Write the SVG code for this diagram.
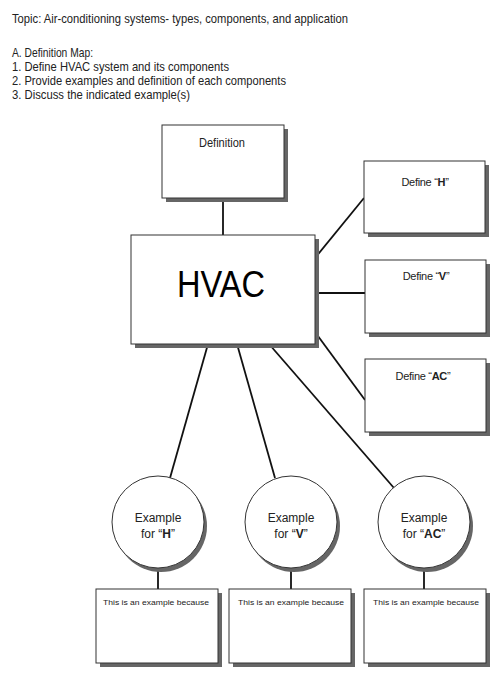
<svg xmlns="http://www.w3.org/2000/svg" width="503" height="700" viewBox="0 0 503 700">
<style>
text{font-family:"Liberation Sans",Arial,sans-serif;fill:#222}
.hdr{font-size:13px}
.box{fill:#fff;stroke:#333;stroke-width:1}
.sh{fill:#666}
.lbl{font-size:12px;text-anchor:middle}
.def{font-size:11px;text-anchor:middle;letter-spacing:-0.3px}
.small{font-size:8px}
.con line{stroke:#111;stroke-width:1.8}
</style>
<rect width="503" height="700" fill="#fff"/>
<g id="header">
<text class="hdr" x="12" y="23" textLength="336" lengthAdjust="spacingAndGlyphs">Topic: Air-conditioning systems- types, components, and application</text>
<text class="hdr" x="12" y="57" textLength="81" lengthAdjust="spacingAndGlyphs">A. Definition Map:</text>
<text class="hdr" x="12" y="71" textLength="217" lengthAdjust="spacingAndGlyphs">1. Define HVAC system and its components</text>
<text class="hdr" x="12" y="85" textLength="274" lengthAdjust="spacingAndGlyphs">2. Provide examples and definition of each components</text>
<text class="hdr" x="12" y="99" textLength="178" lengthAdjust="spacingAndGlyphs">3. Discuss the indicated example(s)</text>
</g>
<g class="con" id="connectors">
<line x1="223" y1="198" x2="223" y2="235"/>
<line x1="315" y1="258" x2="364" y2="198"/>
<line x1="315" y1="293" x2="365" y2="293"/>
<line x1="315" y1="332" x2="365" y2="400"/>
<line x1="208" y1="344" x2="170" y2="478"/>
<line x1="237" y1="344" x2="275" y2="478"/>
<line x1="269" y1="344" x2="394" y2="488"/>
<line x1="158" y1="568" x2="158" y2="589"/>
<line x1="291" y1="568" x2="291" y2="589"/>
<line x1="424" y1="568" x2="424" y2="589"/>
</g>
<g id="definition">
<rect class="sh" x="166" y="129" width="122" height="73"/>
<rect class="box" x="162" y="125" width="122" height="73"/>
<text class="lbl" x="222" y="147" textLength="46" lengthAdjust="spacingAndGlyphs">Definition</text>
</g>
<g id="defineH">
<rect class="sh" x="368" y="165" width="121" height="72"/>
<rect class="box" x="364" y="161" width="121" height="72"/>
<text class="def" x="425" y="186">Define “<tspan font-weight="bold">H</tspan>”</text>
</g>
<g id="hvac">
<rect class="sh" x="135" y="239" width="184" height="109"/>
<rect class="box" x="131" y="235" width="184" height="109"/>
<text x="221" y="297" font-size="37" text-anchor="middle" textLength="88" lengthAdjust="spacingAndGlyphs" style="fill:#000">HVAC</text>
</g>
<g id="defineV">
<rect class="sh" x="369" y="264" width="121" height="73"/>
<rect class="box" x="365" y="260" width="121" height="73"/>
<text class="def" x="426" y="280">Define “<tspan font-weight="bold">V</tspan>”</text>
</g>
<g id="defineAC">
<rect class="sh" x="369" y="363" width="121" height="73"/>
<rect class="box" x="365" y="359" width="121" height="73"/>
<text class="def" x="423" y="380">Define “<tspan font-weight="bold">AC</tspan>”</text>
</g>
<g id="exH">
<circle class="sh" cx="161" cy="526" r="46"/>
<circle class="box" cx="158" cy="522" r="46"/>
<text class="lbl" x="158" y="522">Example</text>
<text class="lbl" x="158" y="538">for “<tspan font-weight="bold">H</tspan>”</text>
</g>
<g id="exV">
<circle class="sh" cx="294" cy="526" r="46"/>
<circle class="box" cx="291" cy="522" r="46"/>
<text class="lbl" x="291" y="522">Example</text>
<text class="lbl" x="291" y="538">for “<tspan font-weight="bold">V</tspan>”</text>
</g>
<g id="exAC">
<circle class="sh" cx="427" cy="526" r="46"/>
<circle class="box" cx="424" cy="522" r="46"/>
<text class="lbl" x="424" y="522">Example</text>
<text class="lbl" x="424" y="538">for “<tspan font-weight="bold">AC</tspan>”</text>
</g>
<g id="becauseH">
<rect class="sh" x="100" y="593" width="122" height="74"/>
<rect class="box" x="96" y="589" width="122" height="74"/>
<text class="small" x="103" y="605" textLength="106" lengthAdjust="spacingAndGlyphs">This is an example because</text>
</g>
<g id="becauseV">
<rect class="sh" x="233" y="593" width="122" height="74"/>
<rect class="box" x="229" y="589" width="122" height="74"/>
<text class="small" x="238" y="605" textLength="106" lengthAdjust="spacingAndGlyphs">This is an example because</text>
</g>
<g id="becauseAC">
<rect class="sh" x="368" y="593" width="122" height="74"/>
<rect class="box" x="364" y="589" width="122" height="74"/>
<text class="small" x="373" y="605" textLength="106" lengthAdjust="spacingAndGlyphs">This is an example because</text>
</g>
</svg>
